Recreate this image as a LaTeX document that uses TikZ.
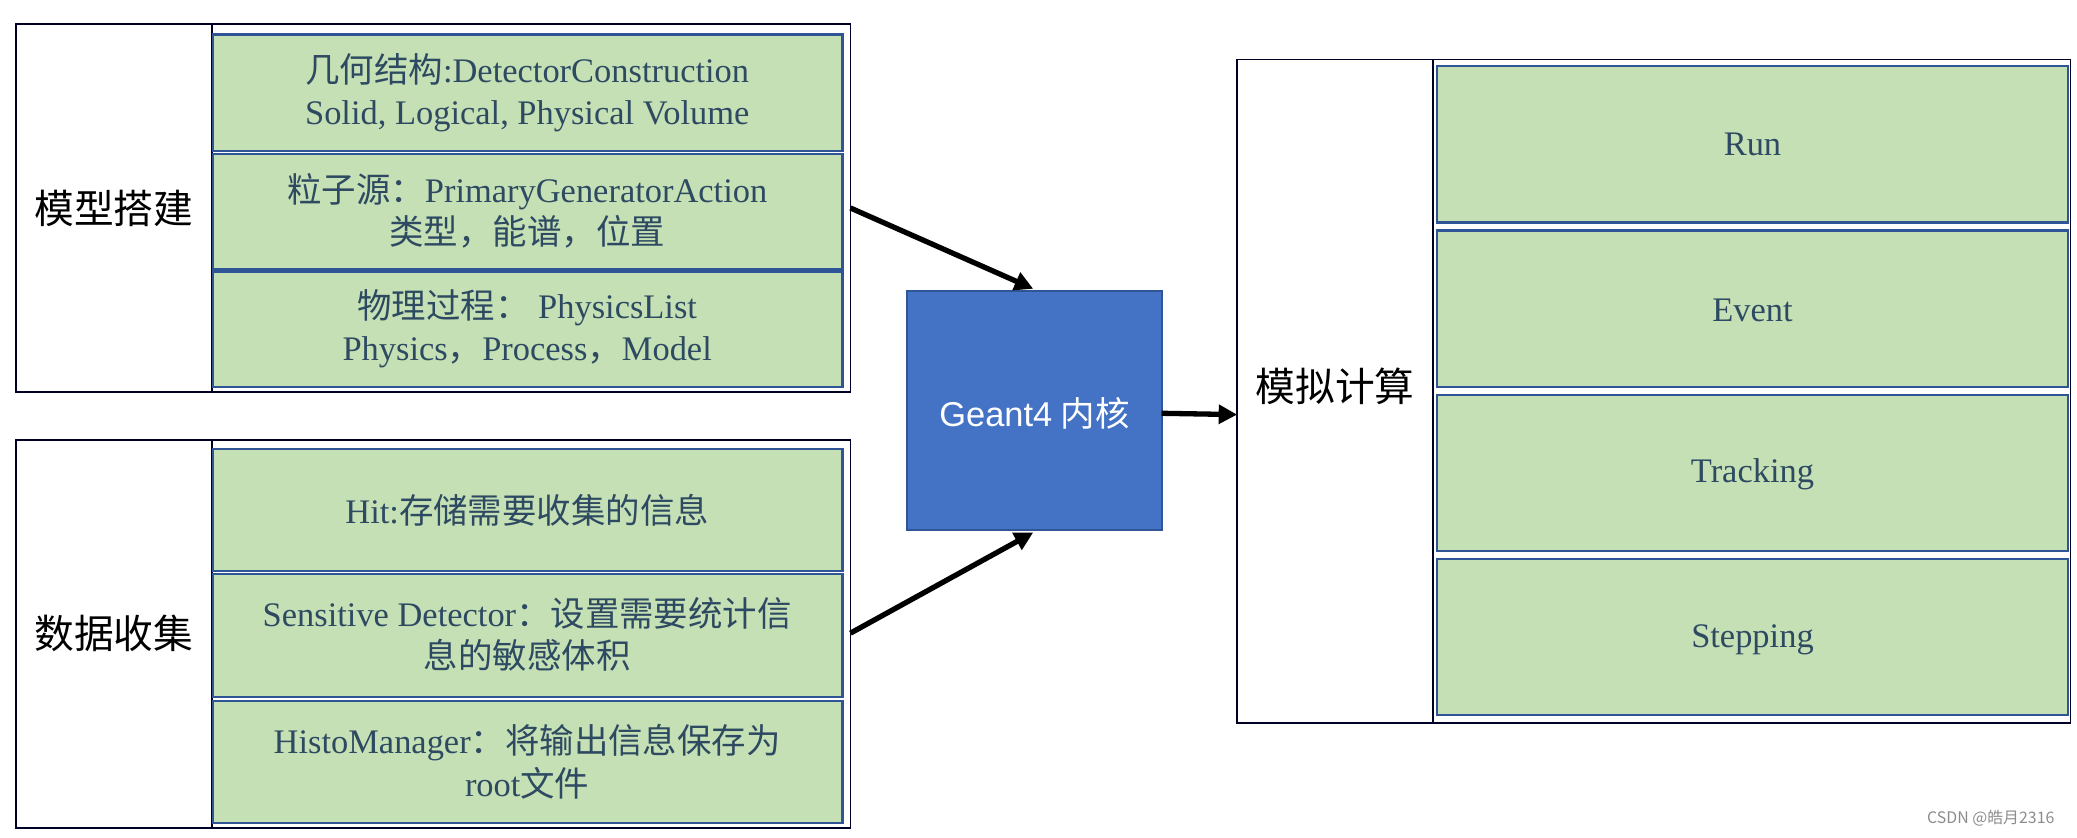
\documentclass[tikz,border=0pt]{standalone}
\usepackage{fontspec}
\setmainfont{Liberation Serif}
\newfontfamily\cjk{Noto Sans CJK SC}
\newfontfamily\sans{Liberation Sans}
\usetikzlibrary{arrows.meta}
\definecolor{gfill}{HTML}{C5E0B4}
\definecolor{gline}{HTML}{2F5597}
\definecolor{txt}{HTML}{2E4A62}
\definecolor{bfill}{HTML}{4472C4}
\begin{document}
\begin{tikzpicture}[x=0.5pt,y=-0.5pt,
  outer/.style={draw=black!85!blue,line width=0.6pt},
  gbox/.style={draw=gline,fill=gfill,line width=0.8pt},
  gtxt/.style={text=txt,font=\fontsize{13}{16}\selectfont,align=center},
  lab/.style={font=\cjk\fontsize{15}{18}\selectfont},
  arr/.style={line width=2pt,-{Triangle[length=7pt,width=7pt]}}]
\useasboundingbox (0,0) rectangle (1568,632);
% top-left
\draw[outer] (12,18) rectangle (642,296);
\draw[outer] (160,18) -- (160,296);
\node[lab] (l1) at (86,157) {模型搭建};
\draw[gbox] (161,26) rectangle (636,114);
\draw[gbox] (161,116) rectangle (636,203);
\draw[gbox] (161,205) rectangle (636,292);
\node[gtxt] (t1) at (398,70) {{\cjk 几何结构}:DetectorConstruction\\Solid, Logical, Physical Volume};
\node[gtxt] (t2) at (398,159) {{\cjk 粒子源：}PrimaryGeneratorAction\\{\cjk 类型，能谱，位置}};
\node[gtxt] (t3) at (398,248) {{\cjk 物理过程：} PhysicsList\\Physics{\cjk ，}Process{\cjk ，}Model};
\coordinate (a1) at (642,157);
% bottom-left
\draw[outer] (12,332) rectangle (642,625);
\draw[outer] (160,332) -- (160,625);
\node[lab] (l2) at (86,478) {数据收集};
\draw[gbox] (161,339) rectangle (636,431);
\draw[gbox] (161,433) rectangle (636,526);
\draw[gbox] (161,529) rectangle (636,621);
\node[gtxt] (t4) at (398,385) {Hit:{\cjk 存储需要收集的信息}};
\node[gtxt] (t5) at (398,479) {Sensitive Detector{\cjk ：设置需要统计信}\\{\cjk 息的敏感体积}};
\node[gtxt] (t6) at (398,575) {HistoManager{\cjk ：将输出信息保存为}\\root{\cjk 文件}};
\coordinate (a2) at (642,478);
% center
\draw[fill=bfill,draw=gline,line width=0.8pt] (685,220) rectangle (877,400);
\node[text=white,font=\fontsize{13}{16}\selectfont] (g) at (781,312) {{\sans Geant4} {\cjk 内核}};
\coordinate (gin1) at (780,218);
\coordinate (gin2) at (780,402);
\coordinate (gout) at (877,312);
% right
\draw[outer] (934,45) rectangle (1563,546);
\draw[outer] (1082,45) -- (1082,546);
\node[lab] (l3) at (1008,292) {模拟计算};
\coordinate (rin) at (934,313);
\draw[gbox] (1085,50) rectangle (1561,168);
\draw[gbox] (1085,174) rectangle (1561,292);
\draw[gbox] (1085,298) rectangle (1561,416);
\draw[gbox] (1085,422) rectangle (1561,540);
\node[gtxt] (r1) at (1323,109) {Run};
\node[gtxt] (r2) at (1323,234) {Event};
\node[gtxt] (r3) at (1323,358) {Tracking};
\node[gtxt] (r4) at (1323,483) {Stepping};
% arrows
\draw[arr] (a1) -- (gin1);
\draw[arr] (a2) -- (gin2);
\draw[arr] (gout) -- (rin);
\node[text=black!45,font=\cjk\fontsize{6}{7}\selectfont,anchor=east] (wm) at (1558,618) {CSDN @皓月2316};
\end{tikzpicture}
\end{document}
